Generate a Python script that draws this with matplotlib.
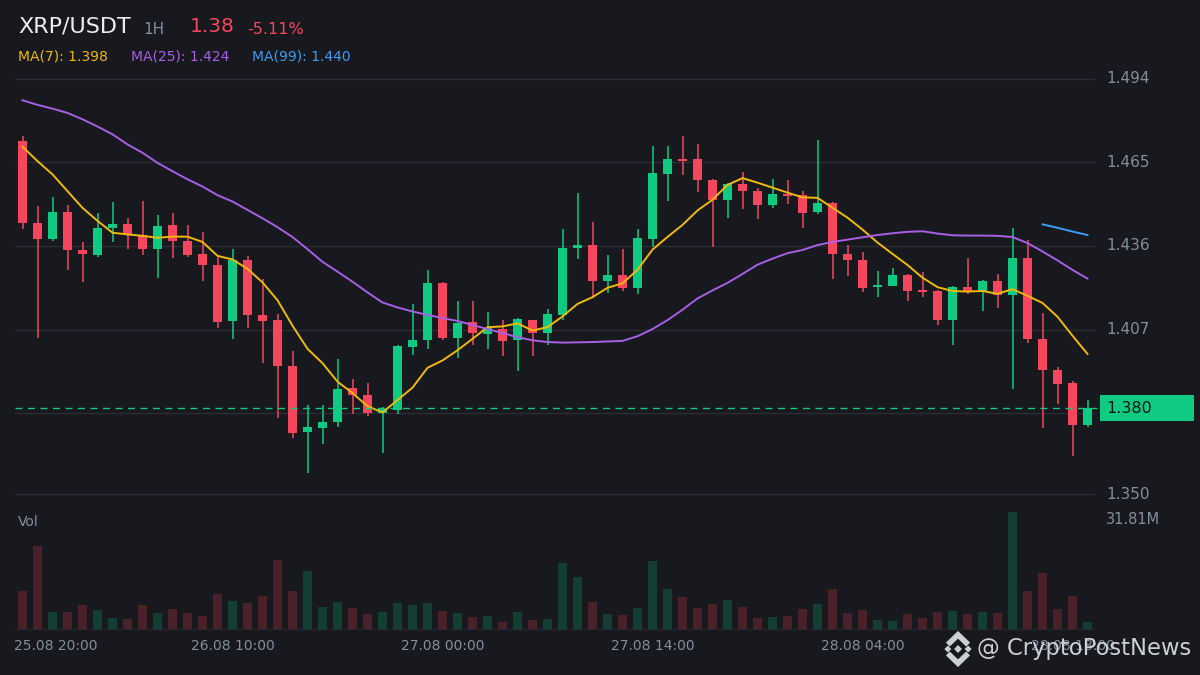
import matplotlib
matplotlib.use("Agg")
import matplotlib.pyplot as plt
import matplotlib.transforms as mtransforms
from matplotlib.patches import Rectangle, Polygon
import numpy as np
import pandas as pd

# ---------------- data ----------------
opens = [1.4724, 1.4440, 1.4385, 1.4478, 1.4346, 1.4330, 1.4423, 1.4436, 1.4398, 1.4351,
         1.4433, 1.4377, 1.4332, 1.4294, 1.4101, 1.4312, 1.4122, 1.4104, 1.3945, 1.3716,
         1.3730, 1.3751, 1.3868, 1.3843, 1.3782, 1.3793, 1.4011, 1.4035, 1.4232, 1.4042,
         1.4096, 1.4056, 1.4072, 1.4035, 1.4103, 1.4059, 1.4122, 1.4353, 1.4363, 1.4240,
         1.4259, 1.4215, 1.4385, 1.4610, 1.4661, 1.4661, 1.4589, 1.4520, 1.4575, 1.4550,
         1.4503, 1.4540, 1.4537, 1.4479, 1.4509, 1.4332, 1.4311, 1.4219, 1.4222, 1.4259,
         1.4208, 1.4205, 1.4104, 1.4218, 1.4201, 1.4239, 1.4191, 1.4318, 1.4038, 1.3930,
         1.3885, 1.3741]
highs = [1.4741, 1.4499, 1.4530, 1.4502, 1.4374, 1.4474, 1.4512, 1.4457, 1.4516, 1.4467,
         1.4474, 1.4433, 1.4408, 1.4323, 1.4351, 1.4326, 1.4247, 1.4125, 1.3997, 1.3809,
         1.3809, 1.3968, 1.3899, 1.3885, 1.3803, 1.4017, 1.4159, 1.4277, 1.4235, 1.4169,
         1.4169, 1.4131, 1.4103, 1.4110, 1.4105, 1.4142, 1.4419, 1.4544, 1.4443, 1.4329,
         1.4350, 1.4419, 1.4706, 1.4706, 1.4741, 1.4713, 1.4592, 1.4577, 1.4616, 1.4561,
         1.4592, 1.4589, 1.4550, 1.4727, 1.4511, 1.4363, 1.4339, 1.4273, 1.4284, 1.4264,
         1.4270, 1.4207, 1.4220, 1.4318, 1.4243, 1.4263, 1.4422, 1.4381, 1.4128, 1.3940,
         1.3892, 1.3826]
lows = [1.4420, 1.4042, 1.4378, 1.4278, 1.4236, 1.4323, 1.4375, 1.4351, 1.4330, 1.4250,
        1.4319, 1.4323, 1.4240, 1.4077, 1.4039, 1.4077, 1.3955, 1.3765, 1.3695, 1.3574,
        1.3675, 1.3734, 1.3779, 1.3772, 1.3644, 1.3779, 1.3983, 1.4004, 1.4035, 1.3973,
        1.4018, 1.4004, 1.3980, 1.3928, 1.3980, 1.4018, 1.4104, 1.4315, 1.4178, 1.4198,
        1.4205, 1.4195, 1.4357, 1.4517, 1.4607, 1.4548, 1.4357, 1.4458, 1.4489, 1.4455,
        1.4493, 1.4507, 1.4423, 1.4472, 1.4247, 1.4257, 1.4201, 1.4184, 1.4222, 1.4170,
        1.4184, 1.4087, 1.4015, 1.4195, 1.4136, 1.4146, 1.3865, 1.4025, 1.3730, 1.3813,
        1.3633, 1.3734]
closes = [1.4441, 1.4385, 1.4478, 1.4347, 1.4333, 1.4422, 1.4436, 1.4399, 1.4351, 1.4429,
          1.4378, 1.4330, 1.4295, 1.4098, 1.4312, 1.4122, 1.4101, 1.3945, 1.3713, 1.3733,
          1.3750, 1.3864, 1.3845, 1.3782, 1.3794, 1.4013, 1.4034, 1.4232, 1.4042, 1.4093,
          1.4059, 1.4076, 1.4032, 1.4107, 1.4059, 1.4124, 1.4353, 1.4363, 1.4240, 1.4259,
          1.4215, 1.4388, 1.4613, 1.4661, 1.4655, 1.4590, 1.4520, 1.4575, 1.4552, 1.4503,
          1.4540, 1.4534, 1.4475, 1.4509, 1.4333, 1.4312, 1.4215, 1.4225, 1.4259, 1.4205,
          1.4201, 1.4104, 1.4218, 1.4201, 1.4239, 1.4191, 1.4318, 1.4039, 1.3931, 1.3883,
          1.3741, 1.3798]
volumes_m = [10.51, 22.65, 4.85, 4.85, 6.74, 5.39, 3.23, 2.97, 6.74, 4.58,
             5.66, 4.58, 3.77, 9.71, 7.82, 7.28, 9.17, 18.87, 10.51, 15.91,
             6.20, 7.55, 5.93, 4.31, 4.85, 7.28, 6.74, 7.28, 5.12, 4.58,
             3.50, 3.77, 2.16, 4.85, 2.70, 2.97, 18.06, 14.29, 7.55, 4.31,
             4.04, 5.93, 18.60, 11.05, 8.90, 5.93, 7.01, 8.09, 6.20, 3.23,
             3.50, 3.77, 5.66, 7.01, 11.05, 4.58, 5.39, 2.70, 2.43, 4.31,
             3.23, 4.85, 5.12, 4.31, 4.85, 4.58, 31.81, 10.51, 15.37, 5.66,
             9.17, 2.16]
# MA(7) for the first six candles depends on earlier (unseen) closes
ma7_head = [1.4704, 1.4654, 1.4608, 1.4550, 1.4492, 1.4447]
ma25 = [1.4865, 1.4849, 1.4836, 1.4821, 1.4799, 1.4774, 1.4747, 1.4712, 1.4683, 1.4648,
        1.4619, 1.4591, 1.4566, 1.4536, 1.4514, 1.4485, 1.4456, 1.4425, 1.4391, 1.4349,
        1.4305, 1.4271, 1.4236, 1.4199, 1.4164, 1.4147, 1.4133, 1.4121, 1.4110, 1.4100,
        1.4086, 1.4072, 1.4058, 1.4044, 1.4033, 1.4027, 1.4025, 1.4026, 1.4027, 1.4029,
        1.4031, 1.4047, 1.4072, 1.4103, 1.4139, 1.4178, 1.4206, 1.4232, 1.4263, 1.4295,
        1.4316, 1.4335, 1.4346, 1.4363, 1.4374, 1.4382, 1.4390, 1.4398, 1.4404, 1.4409,
        1.4411, 1.4403, 1.4397, 1.4396, 1.4396, 1.4395, 1.4391, 1.4370, 1.4341, 1.4310,
        1.4277, 1.4247]
ma99_start = 68
ma99 = [1.4435, 1.4423, 1.4410, 1.4398]

price_ticks = [1.350, 1.378, 1.407, 1.436, 1.465, 1.494]
hidden_tick = 1.378
x_labels = ["25.08 20:00", "26.08 10:00", "27.08 00:00", "27.08 14:00", "28.08 04:00", "28.08 18:00"]
x_label_idx = [0, 14, 28, 42, 56, 70]

pair = "XRP/USDT"
interval = "1H"
last_price = "1.38"
change = "-5.11%"
ma_labels = ["MA(7): 1.398", "MA(25): 1.424", "MA(99): 1.440"]
watermark = "@ CryptoPostNews"

# ---------------- style ----------------
BG = "#17191e"
GRID = "#2a2d34"
GREEN = "#0ecb81"
RED = "#f6465d"
VGREEN = "#123f31"
VRED = "#4a2129"
TXT = "#848e9c"
C_MA7 = "#f0b90b"
C_MA25 = "#a95ee6"
C_MA99 = "#3d9cf5"

W, H = 1200, 675
fig = plt.figure(figsize=(12, 6.75), dpi=100, facecolor=BG)
plt.rcParams['font.family'] = ['DejaVu Sans']


def fx(px):
    return px / W


def fy(py):
    return 1 - py / H


PX_PER_PRICE = 1 / 0.0003466
ax = fig.add_axes([fx(15), fy(500), fx(1080), 430 / H])
axv = fig.add_axes([fx(15), fy(630), fx(1080), 125 / H])
for a in (ax, axv):
    a.set_facecolor(BG)
    for s in a.spines.values():
        s.set_visible(False)
    a.set_xticks([])
    a.set_yticks([])
    a.set_xlim(-0.5, 71.5)

ax.set_ylim(1.52125 - 500 / PX_PER_PRICE, 1.52125 - 70 / PX_PER_PRICE)

x = np.arange(len(closes))
o = np.array(opens)
c = np.array(closes)
h = np.array(highs)
l = np.array(lows)
up = c >= o
colors = np.where(up, GREEN, RED)

for t in price_ticks:
    ax.axhline(t, color=GRID, lw=1, zorder=0)

# wicks and bodies
ax.vlines(x, l, h, colors=colors, lw=1.1, zorder=2)
body_h = np.maximum(np.abs(c - o), 0.0004)
ax.bar(x, body_h, bottom=np.minimum(o, c), width=0.6, color=colors, zorder=3, linewidth=0)

# moving averages
ma7 = pd.Series(closes).rolling(7).mean().to_numpy()
ma7[:6] = ma7_head
ax.plot(x, ma7, color=C_MA7, lw=1.4, zorder=4)
ax.plot(x, ma25, color=C_MA25, lw=1.4, zorder=4)
ax.plot(x[ma99_start:], ma99, color=C_MA99, lw=1.4, zorder=4)

# last price dashed line + box
blend = mtransforms.blended_transform_factory(fig.transFigure, ax.transData)
last_close = closes[-1]
ax.plot([fx(15), fx(1100)], [last_close, last_close], transform=blend, color=GREEN,
        lw=1, ls=(0, (5, 4)), clip_on=False, zorder=5)

# right axis labels
for t in price_ticks:
    if abs(t - hidden_tick) < 1e-9:
        continue
    ax.text(fx(1106), t, f"{t:.3f}", transform=blend, ha="left", va="center",
            fontsize=11, color=TXT, clip_on=False)
half = 13 / PX_PER_PRICE
ax.add_patch(Rectangle((fx(1100), last_close - half), fx(94), 2 * half, transform=blend,
                       facecolor=GREEN, edgecolor="none", clip_on=False, zorder=6))
ax.text(fx(1106), last_close, f"{last_close:.3f}", transform=blend, ha="left", va="center",
        fontsize=11.5, color="#111316", clip_on=False, zorder=7)

# volume
vcol = np.where(up, VGREEN, VRED)
axv.bar(x, volumes_m, width=0.6, color=vcol, linewidth=0, zorder=2)
vmax = max(volumes_m)
axv.set_ylim(0, vmax * 125 / 118.5)
axv.axhline(0, color=GRID, lw=1.2, zorder=3)
fig.text(fx(18), fy(522), "Vol", color=TXT, fontsize=10, ha="left", va="center")
fig.text(fx(1106), fy(520), f"{vmax:.2f}M", color=TXT, fontsize=10.5, ha="left", va="center")

# x labels
xblend = mtransforms.blended_transform_factory(axv.transData, fig.transFigure)
for idx, lab in zip(x_label_idx, x_labels):
    if idx == 0:
        fig.text(fx(14), fy(646), lab, color=TXT, fontsize=10, ha="left", va="center")
    else:
        axv.text(idx, fy(646), lab, transform=xblend, color=TXT, fontsize=10,
                 ha="center", va="center", clip_on=False)

# header
fig.text(fx(18), fy(27), pair, color="#eaecef", fontsize=16, ha="left", va="center")
fig.text(fx(143), fy(29), interval, color=TXT, fontsize=11, ha="left", va="center")
fig.text(fx(190), fy(27), last_price, color=RED, fontsize=14.5, ha="left", va="center")
fig.text(fx(247), fy(29), change, color=RED, fontsize=11.5, ha="left", va="center")
ma_x = [18, 131, 252]
for xx, lab, col in zip(ma_x, ma_labels, [C_MA7, C_MA25, C_MA99]):
    fig.text(fx(xx), fy(57), lab, color=col, fontsize=10, ha="left", va="center")

# watermark with logo
WM = "#d6d9dd"
cx, cy, u = 958, 649, 14.5


def P(pts):
    return [(fx(cx + px * u), fy(cy - py * u)) for px, py in pts]


def diamond(dx, dy, r):
    return P([(dx, dy + r), (dx + r, dy), (dx, dy - r), (dx - r, dy)])


for dx, dy, r in [(0, 0, 0.27), (-0.7, 0, 0.24), (0.7, 0, 0.24)]:
    fig.add_artist(Polygon(diamond(dx, dy, r), closed=True, transform=fig.transFigure,
                           facecolor=WM, edgecolor="none", alpha=0.95))
for sgn in (1, -1):
    pts = P([(-0.56, sgn * 0.44), (0, sgn * 0.98), (0.56, sgn * 0.44)])
    xs, ys = zip(*pts)
    fig.add_artist(plt.Line2D(xs, ys, transform=fig.transFigure, color=WM, lw=4.0,
                              alpha=0.95, solid_joinstyle="miter"))
fig.text(fx(977), fy(649), watermark, color=WM, fontsize=16.3, ha="left", va="center", alpha=0.95)

fig.savefig("out.png", dpi=100, facecolor=BG)
